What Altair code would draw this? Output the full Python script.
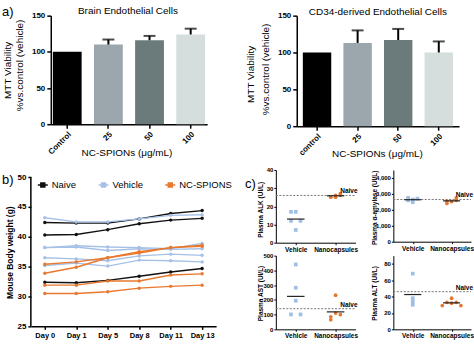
import altair as alt
import pandas as pd

FONT = "Liberation Sans"
INK = "#000000"

panel_letters = ["a)", "b)", "c)"]

# ---------------- panel a : MTT viability ----------------
a1_doses = ["Control", "25", "50", "100"]
a2_doses = ["control", "25", "50", "100"]
a1_title = "Brain Endothelial Cells"
a2_title = "CD34-derived Endothelial Cells"
a1_mean = [100, 110, 116, 124]
a1_err = [0, 7, 6, 8]
a2_mean = [100, 113, 117, 100]
a2_err = [0, 17, 15, 15]
a_y_title = ["MTT Viability", "%vs.control (vehicle)"]
a_x_title = "NC-SPIONs (μg/mL)"
a_y_ticks = [0, 50, 100, 150]
a_bar_colors = ["#000000", "#9ba6ad", "#6b7a7a", "#d6dddd"]

# ---------------- panel b : body weight ----------------
b_days = ["Day 0", "Day 1", "Day 5", "Day 8", "Day 11", "Day 13"]
b_groups = ["Naive", "Vehicle", "NC-SPIONS"]
b_colors = ["#111111", "#a6c1e7", "#e8792f"]
b_naive = [
    [42.4, 42.3, 42.3, 43.0, 43.9, 44.4],
    [40.3, 40.4, 41.2, 42.2, 42.8, 43.1],
    [32.4, 32.3, 32.7, 33.4, 34.1, 34.7],
]
b_vehicle = [
    [43.2, 42.5, 42.5, 43.0, 43.6, 43.7],
    [38.2, 38.5, 38.3, 38.2, 38.0, 38.9],
    [38.2, 38.3, 37.7, 38.0, 37.9, 38.0],
    [36.5, 36.3, 36.0, 36.8, 37.1, 36.9],
    [35.2, 35.6, 35.1, 36.1, 36.0, 35.8],
]
b_nc = [
    [35.4, 35.8, 36.5, 37.3, 38.2, 38.6],
    [33.9, 34.9, 36.5, 37.5, 38.2, 38.4],
    [31.9, 31.9, 32.6, 32.6, 33.6, 33.8],
    [30.5, 30.5, 30.8, 31.4, 31.7, 31.9],
]
b_y_ticks = [25, 30, 35, 40, 45, 50]
b_y_title = "Mouse Body weight (g)"

# ---------------- panel c : plasma markers ----------------
c_groups = ["Vehicle", "Nanocapsules"]
c_colors = ["#9fbfe6", "#e5762f"]
c_naive_label = "Naive"
c_titles = ["Plasma ALK (UI/L)", "Plasma α-amylase (UI/L)", "Plasma AST (UI/L)", "Plasma ALT (UI/L)"]
alk_veh = [17, 17, 12, 12, 7]
alk_veh_slot = [-1, 0, -1, 1, 0]
alk_nc = [25, 26, 25, 26, 27]
alk_nc_slot = [-1, 0, 0, 1, 1]
alk_naive = 26
amy_veh = [2750, 2600, 2480, 2700, 2640]
amy_veh_slot = [-1, -1, 0, 1, 0]
amy_nc = [2400, 2550, 2520, 2600, 2750]
amy_nc_slot = [-1, -1, 0, 1, 1]
amy_naive = 2650
ast_veh = [440, 282, 194, 101, 101]
ast_veh_slot = [0, 0, 0, -1, 1]
ast_nc = [232, 110, 100, 85, 65]
ast_nc_slot = [0, 0, 1, -1, -1]
ast_naive = 140
alt_veh = [68, 38, 34, 30]
alt_veh_slot = [0, 0, 0, 0]
alt_nc = [38, 33, 33, 32, 29, 29]
alt_nc_slot = [0, -1, 1, 0, -2, 2]
alt_naive = 46


def axis(**kw):
    base = dict(labelFont=FONT, labelFontWeight="bold", labelColor=INK, title=None,
                domainColor=INK, tickColor=INK, grid=False, labelFlush=False, labelOverlap=False)
    base.update(kw)
    return alt.Axis(**base)


def label(text, x, y, size, weight="normal", angle=0, align="center", baseline="alphabetic"):
    return alt.Chart(pd.DataFrame({"t": [text]})).mark_text(
        font=FONT, fontSize=size, fontWeight=weight, angle=angle, align=align,
        baseline=baseline, color=INK
    ).encode(text="t:N", x=alt.value(x), y=alt.value(y))


def letter(text, x, y):
    return label(text, x, y, 13, align="left", baseline="middle")


def bar_panel(doses, means, errs, width, height, xrange, pad_outer, y_offset, texts):
    df = pd.DataFrame({"dose": doses, "mean": means, "err": errs})
    df["top"] = df["mean"] + df["err"]
    sc = dict(paddingInner=0.3, paddingOuter=pad_outer)
    if xrange is not None:
        sc["range"] = xrange
    x = alt.X("dose:N", sort=doses, scale=alt.Scale(**sc),
              axis=axis(labelAngle=-45, labelFontSize=8, tickSize=4, tickWidth=1.5,
                        domainWidth=1.5, labelPadding=2))
    yax = axis(values=a_y_ticks, offset=y_offset, labelFontSize=8, tickSize=4, tickWidth=1.5,
               domainWidth=1.5, labelPadding=2)
    ysc = alt.Scale(domain=[0, 150], nice=False)
    base = alt.Chart(df)
    bars = base.mark_bar().encode(
        x=x, y=alt.Y("mean:Q", scale=ysc, axis=yax),
        color=alt.Color("dose:N", scale=alt.Scale(domain=doses, range=a_bar_colors), legend=None))
    errd = base.transform_filter("datum.err > 0")
    stem = errd.mark_rule(color=INK, strokeWidth=2).encode(
        x=x, y=alt.Y("mean:Q", scale=ysc, axis=yax), y2="top:Q")
    cap = errd.mark_tick(color=INK, thickness=2, size=12).encode(
        x=x, y=alt.Y("top:Q", scale=ysc, axis=yax))
    return alt.layer(bars, stem, cap, *texts).properties(width=width, height=height)


a1 = bar_panel(a1_doses, a1_mean, a1_err, 177, 109, [20, 177], 0.05, -20, [
    label(a1_title, 97.5, -2, 10),
    label(a_y_title[0], -23, 55, 10, angle=270, baseline="middle"),
    label(a_y_title[1], -11, 50, 10, angle=270, baseline="middle"),
    label(a_x_title, 96.5, 141, 10),
    letter(panel_letters[0], -29, -4),
])
a2 = bar_panel(a2_doses, a2_mean, a2_err, 163, 111, None, 0.15, 0, [
    label(a2_title, 81.5, -0.5, 10),
    label(a_y_title[0], -46, 59, 10, angle=270, baseline="middle"),
    label(a_y_title[1], -31, 54, 10, angle=270, baseline="middle"),
    label(a_x_title, 81, 142, 10),
])

# ---- panel b
rows = []
for g, series in zip(b_groups, [b_naive, b_vehicle, b_nc]):
    for i, s in enumerate(series):
        for d, w in zip(b_days, s):
            rows.append({"group": g, "mouse": f"{g}{i}", "day": d, "w": w})
b_df = pd.DataFrame(rows)
bx = alt.X("day:N", sort=b_days, scale=alt.Scale(type="point", padding=0.443),
           axis=axis(labelAngle=0, labelFontSize=7.5, tickSize=3, tickWidth=1.5,
                     domainWidth=1.5, labelPadding=2))
bysc = alt.Scale(domain=[25, 51.2], nice=False, zero=False)
byax = axis(values=b_y_ticks, domain=False, labelFontSize=8, tickSize=3, tickWidth=1.5,
            labelPadding=2)
b_lines = alt.Chart(b_df).mark_line(
    strokeWidth=1.4, point=alt.OverlayMarkDef(filled=True, size=12)
).encode(
    x=bx, y=alt.Y("w:Q", scale=bysc, axis=byax),
    color=alt.Color("group:N", scale=alt.Scale(domain=b_groups, range=b_colors),
                    legend=alt.Legend(title=None, orient="none", legendX=6, legendY=9,
                                      direction="horizontal",
                                      symbolType="M-1,0H1M-0.4,-0.4H0.4V0.4H-0.4Z",
                                      symbolSize=100, symbolStrokeWidth=1.5, labelFont=FONT,
                                      labelFontSize=9.5, labelColor=INK, columnPadding=19,
                                      labelOffset=3, padding=0)),
    detail="mouse:N")
b_yline = alt.Chart(pd.DataFrame({"lo": [b_y_ticks[0]], "hi": [b_y_ticks[-1]]})).mark_rule(
    color=INK, strokeWidth=1.5).encode(x=alt.value(0), y=alt.Y("lo:Q", scale=bysc, axis=byax),
                                       y2="hi:Q")
b_chart = alt.layer(
    b_yline, b_lines,
    label(b_y_title, -21, 83, 8.5, weight="bold", angle=270, baseline="middle"),
    letter(panel_letters[1], -29, 10),
).properties(width=186, height=157)


# ---- panel c
def c_panel(title, veh, veh_slot, nc, nc_slot, naive, domain, ticks, width, height, title_x,
            title_y, let=None):
    rows = []
    for v, s in zip(veh, veh_slot):
        rows.append({"grp": c_groups[0], "g": 0, "v": v, "s": s})
    for v, s in zip(nc, nc_slot):
        rows.append({"grp": c_groups[1], "g": 1, "v": v, "s": s})
    df = pd.DataFrame(rows)
    xsc = alt.Scale(domain=[-0.5, 1.5], nice=False, zero=False)
    lab = "[" + ",".join(f"'{g}'" for g in c_groups) + "][datum.value]"
    xax = axis(values=[0, 1], labelExpr=lab, labelFontSize=6.5, tickSize=2, tickWidth=1,
               domainWidth=1, labelPadding=1.5)
    ysc = alt.Scale(domain=domain, nice=False, zero=True)
    yax = axis(values=ticks, labelFontSize=6, tickSize=2, tickWidth=1, domainWidth=1,
               labelPadding=1)
    base = alt.Chart(df)
    pts = base.transform_calculate(xp="datum.g + datum.s * 0.12").mark_point(
        filled=True, size=14, opacity=1).encode(
        x=alt.X("xp:Q", scale=xsc, axis=xax),
        y=alt.Y("v:Q", scale=ysc, axis=yax),
        color=alt.Color("grp:N", scale=alt.Scale(domain=c_groups, range=c_colors), legend=None),
        shape=alt.Shape("grp:N", scale=alt.Scale(domain=c_groups, range=["square", "circle"]),
                        legend=None))
    means = base.transform_aggregate(m="mean(v)", groupby=["g"]).transform_calculate(
        x1="datum.g - 0.22", x2="datum.g + 0.22").mark_rule(color="#222222", strokeWidth=1.2).encode(
        x=alt.X("x1:Q", scale=xsc, axis=xax), x2="x2:Q", y=alt.Y("m:Q", scale=ysc, axis=yax))
    ndf = pd.DataFrame({"n": [naive], "lab": [c_naive_label]})
    nrule = alt.Chart(ndf).mark_rule(color="#777777", strokeDash=[2, 1.5], strokeWidth=1).encode(
        y=alt.Y("n:Q", scale=ysc, axis=yax), x=alt.value(0), x2=alt.value(width))
    ntext = alt.Chart(ndf).mark_text(font=FONT, fontSize=6.5, fontWeight="bold", color=INK,
                                     align="right", baseline="bottom", dy=-1).encode(
        y=alt.Y("n:Q", scale=ysc, axis=yax), x=alt.value(width + 2), text="lab:N")
    layers = [nrule, pts, means, ntext,
              label(title, title_x, title_y, 6.5, weight="bold", angle=270, baseline="middle")]
    if let is not None:
        layers.append(letter(*let))
    return alt.layer(*layers).properties(width=width, height=height)


c1 = c_panel(c_titles[0], alk_veh, alk_veh_slot, alk_nc, alk_nc_slot, alk_naive, [0, 40],
             [0, 10, 20, 30, 40], 80, 73, -14.5, 40, (panel_letters[2], -31, 14))
c2 = c_panel(c_titles[1], amy_veh, amy_veh_slot, amy_nc, amy_nc_slot, amy_naive, [0, 4500],
             [0, 1000, 2000, 3000, 4000], 78, 72, -18.5, 38)
c3 = c_panel(c_titles[2], ast_veh, ast_veh_slot, ast_nc, ast_nc_slot, ast_naive, [0, 500],
             [0, 100, 200, 300, 400, 500], 80, 74, -14.5, 38)
c4 = c_panel(c_titles[3], alt_veh, alt_veh_slot, alt_nc, alt_nc_slot, alt_naive, [0, 90],
             [0, 20, 40, 60, 80], 78, 74, -18.5, 38)

IND = dict(color="independent", shape="independent")
crow1 = alt.hconcat(c1, c2, spacing=13).resolve_scale(**IND)
crow2 = alt.hconcat(c3, c4, spacing=13).resolve_scale(**IND)
cgrid = alt.vconcat(crow1, crow2, spacing=0).resolve_scale(**IND)
bottom = alt.hconcat(b_chart, cgrid, spacing=13).resolve_scale(**IND)
top = alt.hconcat(a1, a2, spacing=39).resolve_scale(**IND)
chart = alt.vconcat(top, bottom, spacing=8).resolve_scale(**IND).properties(
    padding={"left": 2, "top": 5, "right": 0, "bottom": 0}
).configure_view(stroke=None)

chart.save("out.html", embed_options={"renderer": "svg", "actions": False})
